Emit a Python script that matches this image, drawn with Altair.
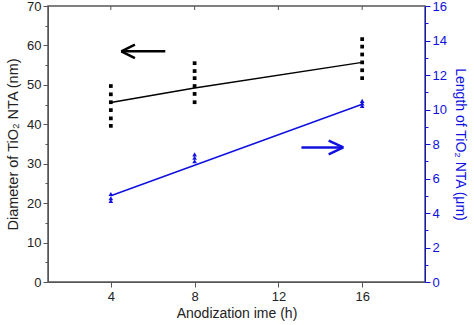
import altair as alt
import pandas as pd

# Diameter (left axis, nm): individual measurements and fitted line
d_time = [4]*6 + [8]*6 + [16]*6
d_vals = [39.6, 41.5, 43.6, 45.6, 47.6, 49.7,
          45.6, 47.7, 49.7, 51.7, 53.5, 55.5,
          51.7, 53.7, 55.7, 57.7, 59.7, 61.6]
d_fit_time = [4, 8, 16]
d_fit_vals = [45.5, 49.2, 55.7]

# Length (right axis, um): individual measurements and fitted line
l_time = [4, 4, 4, 8, 8, 8, 16, 16, 16]
l_vals = [4.7, 4.85, 5.1, 7.0, 7.2, 7.4, 10.2, 10.35, 10.5]
l_fit_time = [4, 8, 16]
l_fit_vals = [5.0, 6.77, 10.3]

x_ticks = [4, 8, 12, 16]

# arrow annotations (segments)
black_arrow_x = [6.6, 5.15, 5.15]
black_arrow_x2 = [4.5, 4.5, 4.5]
black_arrow_y = [58.5, 60.2, 56.8]
black_arrow_y2 = [58.5, 58.5, 58.5]
blue_arrow_x = [13.1, 14.4, 14.4]
blue_arrow_x2 = [15.1, 15.1, 15.1]
blue_arrow_y = [7.8, 8.2, 7.4]
blue_arrow_y2 = [7.8, 7.8, 7.8]

BLUE = "#1010e0"
FONT = "Liberation Sans"

xscale = alt.Scale(domain=[1, 19], nice=False)
xaxis = alt.Axis(values=x_ticks, title="Anodization ime (h)", grid=False,
                 domainColor="#555", tickColor="#555", tickSize=5, labelFontSize=13,
                 titleFontSize=14, labelColor="#222", titleColor="#222",
                 titlePadding=3, labelPadding=3, labelFont=FONT, titleFont=FONT,
                 titleFontWeight="normal", labelOverlap=False)

lscale = alt.Scale(domain=[0, 70], nice=False)
laxis = alt.Axis(values=list(range(0, 71, 5)), title="Diameter of TiO₂ NTA (nm)",
                 grid=False, domainColor="#555", tickColor="#555",
                 tickSize={"condition": {"test": "datum.value % 10 === 0", "value": 5}, "value": 3},
                 labelExpr="datum.value % 10 === 0 ? datum.label : ''",
                 labelFontSize=13, titleFontSize=14.5, labelColor="#222", titleColor="#222",
                 labelPadding=2, titlePadding=6, labelFont=FONT, titleFont=FONT,
                 titleFontWeight="normal", labelOverlap=False, labelBound=False)

rscale = alt.Scale(domain=[0, 16], nice=False)
raxis = alt.Axis(orient="right", values=list(range(0, 17, 1)), title="Length of TiO₂ NTA (μm)",
                 grid=False, domainColor=BLUE, tickColor=BLUE,
                 tickSize={"condition": {"test": "datum.value % 2 === 0", "value": 5}, "value": 3},
                 labelExpr="datum.value % 2 === 0 ? datum.label : ''",
                 labelFontSize=13, titleFontSize=14, labelColor=BLUE, titleColor=BLUE,
                 labelPadding=2, titlePadding=6, labelFont=FONT, titleFont=FONT,
                 titleFontWeight="normal", labelOverlap=False, labelBound=False)

dpts = pd.DataFrame({"t": d_time, "v": d_vals})
dfit = pd.DataFrame({"t": d_fit_time, "v": d_fit_vals})
lpts = pd.DataFrame({"t": l_time, "v": l_vals})
lfit = pd.DataFrame({"t": l_fit_time, "v": l_fit_vals})
tticks = pd.DataFrame({"t": x_ticks})
barrow = pd.DataFrame({"x": black_arrow_x, "x2": black_arrow_x2, "y": black_arrow_y, "y2": black_arrow_y2})
uarrow = pd.DataFrame({"x": blue_arrow_x, "x2": blue_arrow_x2, "y": blue_arrow_y, "y2": blue_arrow_y2})

black_line = alt.Chart(dfit).mark_line(color="black", strokeWidth=1.5).encode(
    x=alt.X("t:Q", scale=xscale, axis=xaxis),
    y=alt.Y("v:Q", scale=lscale, axis=laxis))
black_pts = alt.Chart(dpts).mark_square(color="black", size=14, opacity=1).encode(
    x=alt.X("t:Q", scale=xscale, axis=xaxis), y=alt.Y("v:Q", scale=lscale, axis=laxis))
black_arrow = alt.Chart(barrow).mark_rule(color="black", strokeWidth=2.5).encode(
    x=alt.X("x:Q", scale=xscale, axis=xaxis), x2="x2:Q",
    y=alt.Y("y:Q", scale=lscale, axis=laxis), y2="y2:Q")
top_ticks = alt.Chart(tticks).mark_rule(color="#555", strokeWidth=1).encode(
    x=alt.X("t:Q", scale=xscale, axis=xaxis), y=alt.value(0), y2=alt.value(4))
left = alt.layer(black_line, black_pts, black_arrow, top_ticks)

blue_line = alt.Chart(lfit).mark_line(color=BLUE, strokeWidth=1.5).encode(
    x=alt.X("t:Q", scale=xscale, axis=xaxis),
    y=alt.Y("v:Q", scale=rscale, axis=raxis))
blue_pts = alt.Chart(lpts).mark_point(shape="triangle-up", filled=True, color=BLUE, size=22, opacity=1).encode(
    x=alt.X("t:Q", scale=xscale, axis=xaxis), y=alt.Y("v:Q", scale=rscale, axis=raxis))
blue_arrow = alt.Chart(uarrow).mark_rule(color=BLUE, strokeWidth=2.5).encode(
    x=alt.X("x:Q", scale=xscale, axis=xaxis), x2="x2:Q",
    y=alt.Y("y:Q", scale=rscale, axis=raxis), y2="y2:Q")
right = alt.layer(blue_line, blue_pts, blue_arrow)

chart = alt.layer(left, right).resolve_scale(y="independent").properties(
    width=377, height=276,
    autosize=alt.AutoSizeParams(type="none"),
    padding={"left": 48, "top": 6, "right": 49, "bottom": 43},
    background="white",
).configure_view(stroke="#555", strokeWidth=1.5)

chart.save("out.html", embed_options={"renderer": "svg", "actions": False})
